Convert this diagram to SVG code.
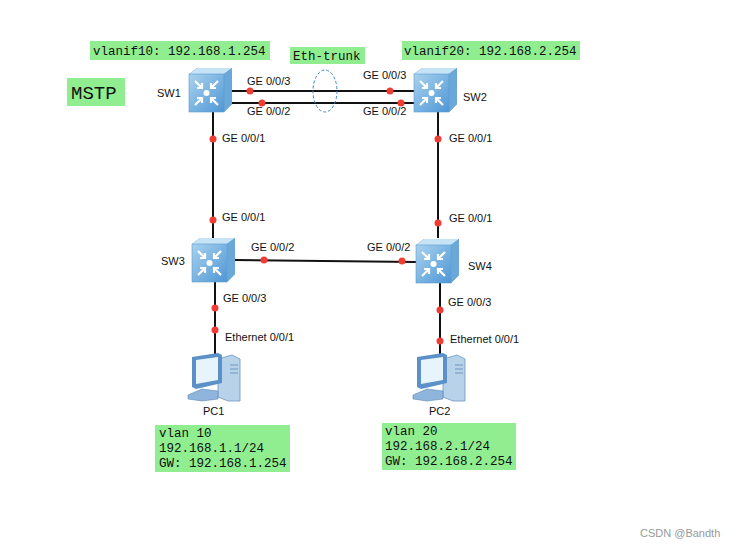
<svg xmlns="http://www.w3.org/2000/svg" width="749" height="548" viewBox="0 0 749 548">
<defs>
<style>
.g{fill:#90ee90}
.m{font-family:"Liberation Mono",monospace;font-size:12.5px;fill:#111}
.s{font-family:"Liberation Sans",Arial,sans-serif;font-size:11px;fill:#111}
.ln{stroke:#111;stroke-width:2;fill:none}
.d{fill:#f03c32}
</style>
<linearGradient id="sf" x1="0" y1="0" x2="1" y2="1"><stop offset="0" stop-color="#a9d2ee"/><stop offset="1" stop-color="#4f97d6"/></linearGradient>
<g id="sw">
<path d="M0,6 L8,0 L43,0 L43,36 L35,44 L0,44 Z" fill="#3d86c6"/>
<path d="M0,6 L8,0 L43,0 L35,6 Z" fill="#c7e3f6"/>
<path d="M35,6 L43,0 L43,36 L35,44 Z" fill="#6aa8da"/>
<rect x="0" y="6" width="35" height="38" fill="url(#sf)" stroke="#5a9ad0" stroke-width="0.6"/>
<g stroke="#fff" stroke-width="2.2" fill="none">
<path d="M6,13 L13,20 M13,15 L13,20 L8,20"/>
<path d="M29,13 L22,20 M22,15 L22,20 L27,20"/>
<path d="M6,37 L13,30 M13,35 L13,30 L8,30"/>
<path d="M29,37 L22,30 M22,35 L22,30 L27,30"/>
</g>
<circle cx="17.5" cy="25" r="3" fill="#fff"/>
</g>
<g id="pc">
<path d="M30,6 L44,2 L52,6 L52,48 L40,48 L30,44 Z" fill="#b8d2ea" stroke="#6d95bf" stroke-width="0.8"/>
<path d="M42,12 L50,12 M42,16 L50,16 M42,20 L50,20" stroke="#6d95bf" stroke-width="1"/>
<path d="M4,4 L30,0 L34,2 L34,30 L8,36 L4,34 Z" fill="#5c91c8"/>
<path d="M8,7 L30,4 L30,27 L8,31 Z" fill="#e8f4fc"/>
<path d="M0,42 L14,36 L30,38 L30,46 L14,48 L0,46 Z" fill="#8fb5dc" stroke="#5c88b8" stroke-width="0.6"/>
</g>
</defs>
<rect width="749" height="548" fill="#fff"/>
<g id="connectors">
<line class="ln" x1="232" y1="91" x2="414" y2="91"/>
<line class="ln" x1="232" y1="103" x2="414" y2="103"/>
<line class="ln" x1="213" y1="112" x2="213" y2="238"/>
<line class="ln" x1="438" y1="112" x2="438" y2="238"/>
<line class="ln" x1="235" y1="260" x2="416" y2="262"/>
<line class="ln" x1="215" y1="282" x2="215" y2="356"/>
<line class="ln" x1="440" y1="282" x2="440" y2="356"/>
<ellipse cx="325" cy="91" rx="12" ry="21" fill="none" stroke="#3b82d6" stroke-width="1" stroke-dasharray="3,2"/>
<g class="d">
<circle cx="250" cy="91" r="3.5"/><circle cx="262" cy="103" r="3.5"/>
<circle cx="390" cy="91" r="3.5"/><circle cx="401" cy="103" r="3.5"/>
<circle cx="213" cy="139" r="3.5"/><circle cx="213" cy="220" r="3.5"/>
<circle cx="438" cy="139" r="3.5"/><circle cx="438" cy="223" r="3.5"/>
<circle cx="264" cy="260" r="3.5"/><circle cx="402" cy="261" r="3.5"/>
<circle cx="215" cy="308" r="3.5"/><circle cx="215" cy="330" r="3.5"/>
<circle cx="440" cy="310" r="3.5"/><circle cx="440" cy="341" r="3.5"/>
</g>
<text class="s" x="247" y="85">GE 0/0/3</text>
<text class="s" x="247" y="115">GE 0/0/2</text>
<text class="s" x="363" y="79">GE 0/0/3</text>
<text class="s" x="363" y="115">GE 0/0/2</text>
<text class="s" x="222" y="142">GE 0/0/1</text>
<text class="s" x="222" y="221">GE 0/0/1</text>
<text class="s" x="449" y="142">GE 0/0/1</text>
<text class="s" x="449" y="222">GE 0/0/1</text>
<text class="s" x="251" y="251">GE 0/0/2</text>
<text class="s" x="367" y="251">GE 0/0/2</text>
<text class="s" x="223" y="302">GE 0/0/3</text>
<text class="s" x="448" y="306">GE 0/0/3</text>
<text class="s" x="225" y="341">Ethernet 0/0/1</text>
<text class="s" x="450" y="343">Ethernet 0/0/1</text>
</g>
<g id="SW1"><use href="#sw" x="189" y="68"/><text class="s" x="157" y="97">SW1</text></g>
<g id="SW2"><use href="#sw" x="414" y="68"/><text class="s" x="463" y="101">SW2</text></g>
<g id="SW3"><use href="#sw" x="192" y="238"/><text class="s" x="161" y="265">SW3</text></g>
<g id="SW4"><use href="#sw" x="416" y="239"/><text class="s" x="468" y="270">SW4</text></g>
<g id="PC1"><use href="#pc" x="188" y="353"/><text class="s" x="203" y="415">PC1</text></g>
<g id="PC2"><use href="#pc" x="413" y="353"/><text class="s" x="429" y="415">PC2</text></g>
<g id="notes">
<rect class="g" x="90" y="41" width="180" height="19"/><text class="m" x="93" y="55">vlanif10: 192.168.1.254</text>
<rect class="g" x="290" y="47" width="75" height="17"/><text class="m" x="293" y="60">Eth-trunk</text>
<rect class="g" x="402" y="41" width="178" height="19"/><text class="m" x="404" y="55">vlanif20: 192.168.2.254</text>
<rect class="g" x="67" y="78" width="58" height="28"/><text class="m" x="71" y="99" style="font-size:19px">MSTP</text>
<rect class="g" x="155" y="425" width="135" height="47"/>
<text class="m" x="159" y="437">vlan 10</text><text class="m" x="159" y="452">192.168.1.1/24</text><text class="m" x="159" y="467">GW: 192.168.1.254</text>
<rect class="g" x="382" y="423" width="134" height="47"/>
<text class="m" x="385" y="435">vlan 20</text><text class="m" x="385" y="450">192.168.2.1/24</text><text class="m" x="385" y="465">GW: 192.168.2.254</text>
</g>
<text x="640" y="537" style="font-family:'Liberation Sans',sans-serif;font-size:11px;fill:#999">CSDN @Bandth</text>
</svg>
